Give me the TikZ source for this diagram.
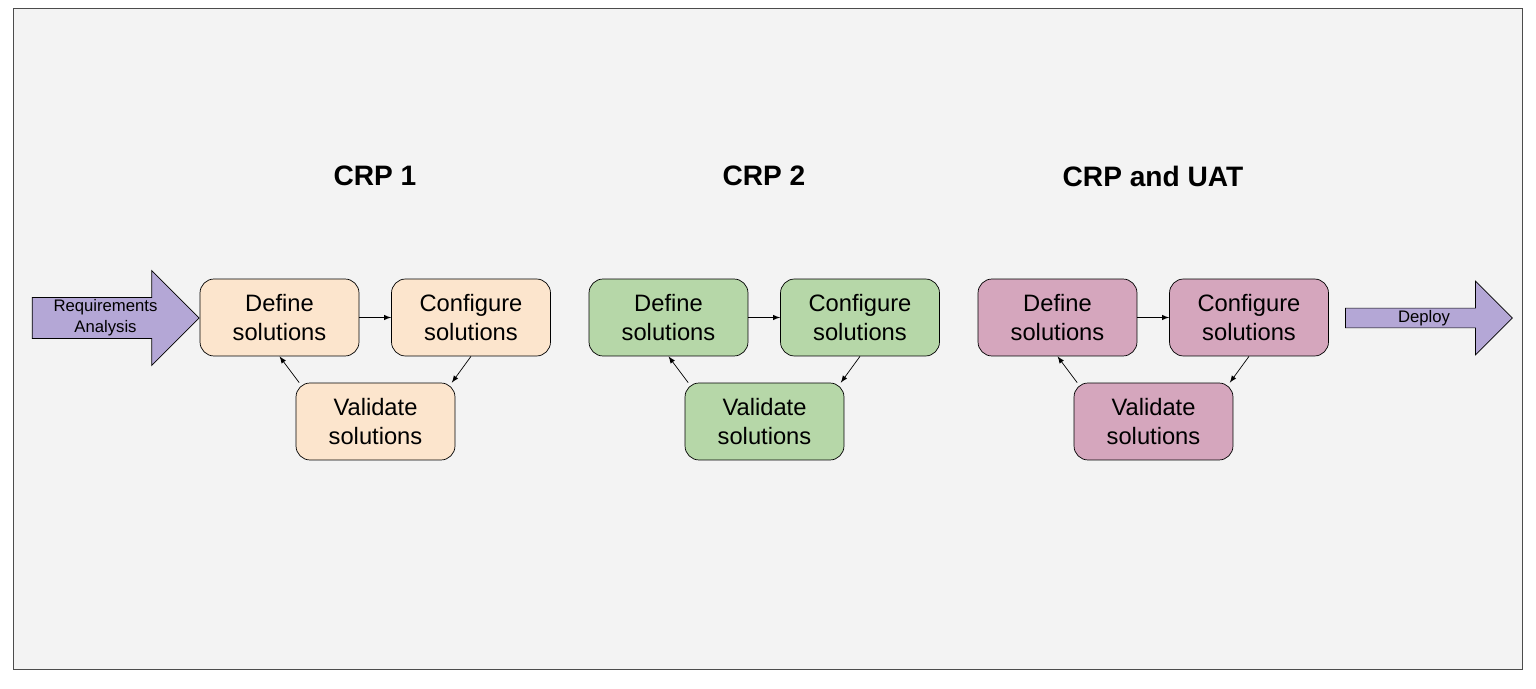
\documentclass[tikz,border=0pt]{standalone}
\usepackage{fontspec}
\setmainfont{Liberation Sans}
\usetikzlibrary{shapes.arrows}
\definecolor{bgGray}{HTML}{F3F3F3}
\definecolor{crpPeach}{HTML}{FCE5CD}
\definecolor{crpGreen}{HTML}{B6D7A8}
\definecolor{crpPink}{HTML}{D5A6BD}
\definecolor{flowPurple}{HTML}{B4A7D6}
\tikzset{
  phase/.style={draw, rounded corners=8pt, minimum width=3.18cm, minimum height=1.54cm,
    align=center, font=\fontsize{13.5}{17}\selectfont},
  title/.style={font=\fontsize{16}{19}\selectfont\bfseries},
  flow/.style={single arrow, draw, fill=flowPurple, single arrow head extend=0.54cm,
    minimum height=3.34cm, minimum width=1.4cm, inner sep=1pt, align=center,
    font=\fontsize{9.5}{12}\selectfont},
  link/.style={-latex, thin}
}
\begin{document}
\begin{tikzpicture}[x=0.02cm, y=-0.02cm]
		\useasboundingbox (0,0) rectangle (1536,689);
		\draw[fill=bgGray, draw=black!70] (13,8) rectangle (1522,669);
		
		\node[flow] (req) at (105.5,318) {Requirements\\Analysis};
		\node[flow] (dep) at (1424,318) {Deploy};
		
		\foreach \g/\dx/\col/\name in {1/0/crpPeach/CRP 1, 2/389/crpGreen/CRP 2, 3/778/crpPink/CRP and UAT} {
			\node[title] (t\g) at (375+\dx,176) {\name};
			\node[phase, fill=\col] (d\g) at (279.5+\dx,317.5) {Define\\solutions};
			\node[phase, fill=\col] (c\g) at (471+\dx,317.5) {Configure\\solutions};
			\node[phase, fill=\col] (v\g) at (375.5+\dx,421.5) {Validate\\solutions};
			\draw[link] (d\g) -- (c\g);
			\draw[link] (c\g.south) -- ([xshift=-2pt]v\g.north east);
			\draw[link] ([xshift=2pt]v\g.north west) -- (d\g.south);
		}
\end{tikzpicture}
\end{document}
